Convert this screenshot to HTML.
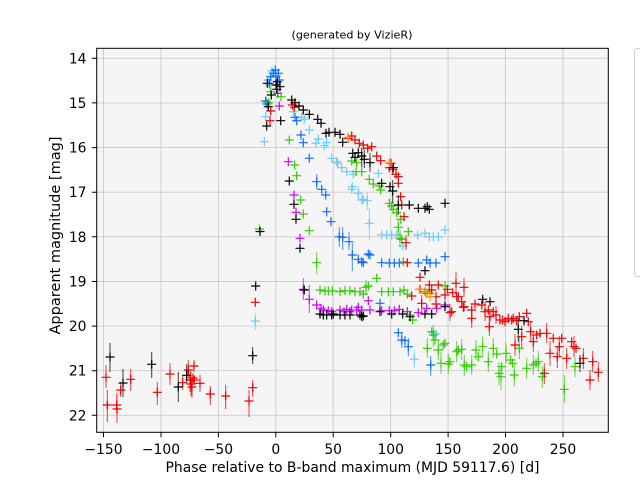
<!DOCTYPE html>
<html><head><meta charset="utf-8"><style>
html,body{margin:0;padding:0;background:#fff;}
svg{display:block;}
text{font-family:"DejaVu Sans","Liberation Sans",sans-serif;fill:#000;}
</style></head><body>
<svg width="640" height="480" viewBox="0 0 640 480" xmlns="http://www.w3.org/2000/svg">
<rect x="0" y="0" width="640" height="480" fill="#fff"/>
<text x="352" y="38.5" font-size="10.5" text-anchor="middle" textLength="121" lengthAdjust="spacingAndGlyphs">(generated by VizieR)</text>
<rect x="96.7" y="48.3" width="511.6" height="384" fill="#f5f5f5"/>
<g stroke="#cbcbcb" stroke-width="0.9">
<path d="M103.5 48.3V432.3M161 48.3V432.3M218.4 48.3V432.3M275.8 48.3V432.3M333.2 48.3V432.3M390.7 48.3V432.3M448.1 48.3V432.3M505.5 48.3V432.3M563 48.3V432.3"/>
<path d="M96.7 58.3H608.3M96.7 102.9H608.3M96.7 147.6H608.3M96.7 192.2H608.3M96.7 236.8H608.3M96.7 281.5H608.3M96.7 326.1H608.3M96.7 370.7H608.3M96.7 415.3H608.3"/>
</g>
<defs><clipPath id="c"><rect x="96.7" y="48.3" width="511.6" height="384"/></clipPath></defs>
<g clip-path="url(#c)" fill="none">
<!-- light blue -->
<g stroke="#66ccff">
<path stroke-width="1" opacity="0.75" d="M369.3 208V240M255.3 313V330M414.3 350V368M367.3 192V210M358.3 186V200"/>
<path stroke-width="1.2" d="M266.7 101.7m-4.5 0h9m-4.5-4.5v9M265.7 116.7m-4.5 0h9m-4.5-4.5v9M264.3 141.7m-4.5 0h9m-4.5-4.5v9M270 85m-4.5 0h9m-4.5-4.5v9M268 80m-4.5 0h9m-4.5-4.5v9M272 71m-4.5 0h9m-4.5-4.5v9M293.3 111.7m-4.5 0h9m-4.5-4.5v9M301.7 117.3m-4.5 0h9m-4.5-4.5v9M304.3 119.3m-4.5 0h9m-4.5-4.5v9M309.3 130m-4.5 0h9m-4.5-4.5v9M316 143.3m-4.5 0h9m-4.5-4.5v9M318.3 139m-4.5 0h9m-4.5-4.5v9M324.3 145.7m-4.5 0h9m-4.5-4.5v9M326.7 142.7m-4.5 0h9m-4.5-4.5v9M331.7 158.3m-4.5 0h9m-4.5-4.5v9M336.7 161.7m-4.5 0h9m-4.5-4.5v9M337.7 163.3m-4.5 0h9m-4.5-4.5v9M341.7 167.7m-4.5 0h9m-4.5-4.5v9M346.7 171.7m-4.5 0h9m-4.5-4.5v9M353.3 174.3m-4.5 0h9m-4.5-4.5v9M352.3 186.7m-4.5 0h9m-4.5-4.5v9M358.3 193.3m-4.5 0h9m-4.5-4.5v9M361.7 200m-4.5 0h9m-4.5-4.5v9M378.3 173.3m-4.5 0h9m-4.5-4.5v9M351.7 189.3m-4.5 0h9m-4.5-4.5v9M363.3 199.3m-4.5 0h9m-4.5-4.5v9M367.3 200.7m-4.5 0h9m-4.5-4.5v9M369.3 223.3m-4.5 0h9m-4.5-4.5v9M381.7 235m-4.5 0h9m-4.5-4.5v9M386.7 235m-4.5 0h9m-4.5-4.5v9M391.7 235m-4.5 0h9m-4.5-4.5v9M396.7 235m-4.5 0h9m-4.5-4.5v9M402.7 246m-4.5 0h9m-4.5-4.5v9M417.7 235m-4.5 0h9m-4.5-4.5v9M425 233.3m-4.5 0h9m-4.5-4.5v9M429.3 236.7m-4.5 0h9m-4.5-4.5v9M433.3 236.7m-4.5 0h9m-4.5-4.5v9M438.3 236.7m-4.5 0h9m-4.5-4.5v9M445 230m-4.5 0h9m-4.5-4.5v9M255.3 321m-4.5 0h9m-4.5-4.5v9M414.3 359.3m-4.5 0h9m-4.5-4.5v9M433.3 332.7m-4.5 0h9m-4.5-4.5v9M436 334m-4.5 0h9m-4.5-4.5v9"/>
</g>
<!-- blue -->
<g stroke="#0a6cff">
<path stroke-width="1" opacity="0.75" d="M339.3 227V247M342.7 227V250M349 232V250M352.3 243V271M408.3 338V356M430.7 356V376M401.7 332V348M316.7 174V189"/>
<path stroke-width="1.2" d="M273.3 73.3m-4.5 0h9m-4.5-4.5v9M275.3 70m-4.5 0h9m-4.5-4.5v9M270.7 76.7m-4.5 0h9m-4.5-4.5v9M278.3 73.3m-4.5 0h9m-4.5-4.5v9M269.3 83.3m-4.5 0h9m-4.5-4.5v9M279.3 80m-4.5 0h9m-4.5-4.5v9M265.7 101m-4.5 0h9m-4.5-4.5v9M267 104m-4.5 0h9m-4.5-4.5v9M276 76m-4.5 0h9m-4.5-4.5v9M295 117.3m-4.5 0h9m-4.5-4.5v9M296.7 120.7m-4.5 0h9m-4.5-4.5v9M301 135m-4.5 0h9m-4.5-4.5v9M303.3 142.7m-4.5 0h9m-4.5-4.5v9M309.3 158.3m-4.5 0h9m-4.5-4.5v9M316.7 181.7m-4.5 0h9m-4.5-4.5v9M321.7 189.3m-4.5 0h9m-4.5-4.5v9M325.7 195m-4.5 0h9m-4.5-4.5v9M326.7 211.7m-4.5 0h9m-4.5-4.5v9M331 221.7m-4.5 0h9m-4.5-4.5v9M339.3 236.7m-4.5 0h9m-4.5-4.5v9M342.7 237.3m-4.5 0h9m-4.5-4.5v9M349 241.7m-4.5 0h9m-4.5-4.5v9M352.3 255m-4.5 0h9m-4.5-4.5v9M358.3 259.3m-4.5 0h9m-4.5-4.5v9M361.7 261.7m-4.5 0h9m-4.5-4.5v9M363.3 262.7m-4.5 0h9m-4.5-4.5v9M368.3 254m-4.5 0h9m-4.5-4.5v9M370 255m-4.5 0h9m-4.5-4.5v9M381.7 262.7m-4.5 0h9m-4.5-4.5v9M389.3 263m-4.5 0h9m-4.5-4.5v9M394.3 263m-4.5 0h9m-4.5-4.5v9M399.3 263m-4.5 0h9m-4.5-4.5v9M418.3 263m-4.5 0h9m-4.5-4.5v9M426.7 260m-4.5 0h9m-4.5-4.5v9M430 263m-4.5 0h9m-4.5-4.5v9M436 263m-4.5 0h9m-4.5-4.5v9M445 256.7m-4.5 0h9m-4.5-4.5v9M380 303.3m-4.5 0h9m-4.5-4.5v9M398.3 332.7m-4.5 0h9m-4.5-4.5v9M401.7 340m-4.5 0h9m-4.5-4.5v9M405 340.7m-4.5 0h9m-4.5-4.5v9M408.3 346.7m-4.5 0h9m-4.5-4.5v9M430.7 365m-4.5 0h9m-4.5-4.5v9"/>
</g>
<!-- green -->
<g stroke="#33cc00">
<path stroke-width="1" opacity="0.75" d="M316.7 252V274M433.3 325V347M564.3 375V403M501 365V390M499 362V385M514.3 364V386M542.3 366V388M441 352V374M464.3 355V376M448.3 354V374M471.7 355V375M488.3 351V372M526.7 358V379M456.7 341V362M476 340V360M482.7 336V357M493.3 338V358M506 343V363M519.3 337V359M533.3 355V375M538.3 351V372M575 357V377M427.3 338V358M438.3 340V360M461.7 339V360M400 230V247M398.3 219V236M366 280V295"/>
<path stroke-width="1.2" d="M270.7 91.7m-4.5 0h9m-4.5-4.5v9M281 96.7m-4.5 0h9m-4.5-4.5v9M268.7 102.7m-4.5 0h9m-4.5-4.5v9M289.3 140m-4.5 0h9m-4.5-4.5v9M294.7 165m-4.5 0h9m-4.5-4.5v9M296.7 175.7m-4.5 0h9m-4.5-4.5v9M300.7 200m-4.5 0h9m-4.5-4.5v9M303.3 214m-4.5 0h9m-4.5-4.5v9M309.3 230.7m-4.5 0h9m-4.5-4.5v9M259.5 229m-4.5 0h9m-4.5-4.5v9M316.7 262.7m-4.5 0h9m-4.5-4.5v9M351.7 161m-4.5 0h9m-4.5-4.5v9M356.7 162.7m-4.5 0h9m-4.5-4.5v9M356 171.7m-4.5 0h9m-4.5-4.5v9M361.7 171.7m-4.5 0h9m-4.5-4.5v9M369.3 179.3m-4.5 0h9m-4.5-4.5v9M373.3 184m-4.5 0h9m-4.5-4.5v9M379.3 186m-4.5 0h9m-4.5-4.5v9M380.7 190m-4.5 0h9m-4.5-4.5v9M389.3 203.3m-4.5 0h9m-4.5-4.5v9M391.7 206m-4.5 0h9m-4.5-4.5v9M393.3 209.3m-4.5 0h9m-4.5-4.5v9M396.7 212.7m-4.5 0h9m-4.5-4.5v9M400.7 219.3m-4.5 0h9m-4.5-4.5v9M398.3 227.3m-4.5 0h9m-4.5-4.5v9M408.3 231.7m-4.5 0h9m-4.5-4.5v9M400 238.3m-4.5 0h9m-4.5-4.5v9M401.7 239.3m-4.5 0h9m-4.5-4.5v9M403.3 261.7m-4.5 0h9m-4.5-4.5v9M320 290m-4.5 0h9m-4.5-4.5v9M325 291m-4.5 0h9m-4.5-4.5v9M328.3 291m-4.5 0h9m-4.5-4.5v9M332.3 291m-4.5 0h9m-4.5-4.5v9M340 291.7m-4.5 0h9m-4.5-4.5v9M345 290.7m-4.5 0h9m-4.5-4.5v9M350 290.7m-4.5 0h9m-4.5-4.5v9M355 291.7m-4.5 0h9m-4.5-4.5v9M360 291.7m-4.5 0h9m-4.5-4.5v9M363.3 294m-4.5 0h9m-4.5-4.5v9M366 287.3m-4.5 0h9m-4.5-4.5v9M368.3 286m-4.5 0h9m-4.5-4.5v9M376.7 278.3m-4.5 0h9m-4.5-4.5v9M381.7 291.7m-4.5 0h9m-4.5-4.5v9M388.3 291.7m-4.5 0h9m-4.5-4.5v9M393.3 291.7m-4.5 0h9m-4.5-4.5v9M400 291.7m-4.5 0h9m-4.5-4.5v9M404 290m-4.5 0h9m-4.5-4.5v9M407.3 294m-4.5 0h9m-4.5-4.5v9M425 291.7m-4.5 0h9m-4.5-4.5v9M430 293.3m-4.5 0h9m-4.5-4.5v9M445 286m-4.5 0h9m-4.5-4.5v9M410 315m-4.5 0h9m-4.5-4.5v9M412.7 320m-4.5 0h9m-4.5-4.5v9M431.7 331.7m-4.5 0h9m-4.5-4.5v9M427.3 348.3m-4.5 0h9m-4.5-4.5v9M433.3 335m-4.5 0h9m-4.5-4.5v9M435 340m-4.5 0h9m-4.5-4.5v9M438.3 350m-4.5 0h9m-4.5-4.5v9M441 363.3m-4.5 0h9m-4.5-4.5v9M443.3 345m-4.5 0h9m-4.5-4.5v9M445 343.3m-4.5 0h9m-4.5-4.5v9M448.3 364m-4.5 0h9m-4.5-4.5v9M450 361.7m-4.5 0h9m-4.5-4.5v9M456.7 351.7m-4.5 0h9m-4.5-4.5v9M458.3 350m-4.5 0h9m-4.5-4.5v9M461.7 349.3m-4.5 0h9m-4.5-4.5v9M464.3 365m-4.5 0h9m-4.5-4.5v9M466.7 366.7m-4.5 0h9m-4.5-4.5v9M471.7 365m-4.5 0h9m-4.5-4.5v9M476 350m-4.5 0h9m-4.5-4.5v9M478.3 356.7m-4.5 0h9m-4.5-4.5v9M482.7 346.7m-4.5 0h9m-4.5-4.5v9M488.3 361.7m-4.5 0h9m-4.5-4.5v9M493.3 348.3m-4.5 0h9m-4.5-4.5v9M496.7 354m-4.5 0h9m-4.5-4.5v9M499 373.3m-4.5 0h9m-4.5-4.5v9M501 376.7m-4.5 0h9m-4.5-4.5v9M501.7 366.7m-4.5 0h9m-4.5-4.5v9M506 353.3m-4.5 0h9m-4.5-4.5v9M510.7 360m-4.5 0h9m-4.5-4.5v9M512.7 363.3m-4.5 0h9m-4.5-4.5v9M514.3 375m-4.5 0h9m-4.5-4.5v9M519.3 348.3m-4.5 0h9m-4.5-4.5v9M526.7 368.3m-4.5 0h9m-4.5-4.5v9M533.3 365m-4.5 0h9m-4.5-4.5v9M536 363.3m-4.5 0h9m-4.5-4.5v9M538.3 361.7m-4.5 0h9m-4.5-4.5v9M542.3 376.7m-4.5 0h9m-4.5-4.5v9M564.3 389.3m-4.5 0h9m-4.5-4.5v9M575 366.7m-4.5 0h9m-4.5-4.5v9"/>
</g>
<!-- magenta -->
<g stroke="#cc00ff">
<path stroke-width="1" opacity="0.75" d="M303.3 278V300M309.3 285V313"/>
<path stroke-width="1.2" d="M277.7 93.3m-4.5 0h9m-4.5-4.5v9M279.3 106m-4.5 0h9m-4.5-4.5v9M288.3 161.7m-4.5 0h9m-4.5-4.5v9M294 195m-4.5 0h9m-4.5-4.5v9M296 212.3m-4.5 0h9m-4.5-4.5v9M300 238.3m-4.5 0h9m-4.5-4.5v9M303.3 289.3m-4.5 0h9m-4.5-4.5v9M309.3 299.3m-4.5 0h9m-4.5-4.5v9M316.7 305m-4.5 0h9m-4.5-4.5v9M321 308.3m-4.5 0h9m-4.5-4.5v9M323.3 310m-4.5 0h9m-4.5-4.5v9M328.3 310.7m-4.5 0h9m-4.5-4.5v9M331.7 311.7m-4.5 0h9m-4.5-4.5v9M340 310m-4.5 0h9m-4.5-4.5v9M344 311.7m-4.5 0h9m-4.5-4.5v9M346.7 309.3m-4.5 0h9m-4.5-4.5v9M350 311.7m-4.5 0h9m-4.5-4.5v9M351.7 310m-4.5 0h9m-4.5-4.5v9M356.7 310m-4.5 0h9m-4.5-4.5v9M358.3 307.3m-4.5 0h9m-4.5-4.5v9M361.7 310m-4.5 0h9m-4.5-4.5v9M368.3 300.7m-4.5 0h9m-4.5-4.5v9M370 310m-4.5 0h9m-4.5-4.5v9M381.7 310.7m-4.5 0h9m-4.5-4.5v9M389.3 310.7m-4.5 0h9m-4.5-4.5v9M394.3 310.7m-4.5 0h9m-4.5-4.5v9M399.3 309.3m-4.5 0h9m-4.5-4.5v9M407.3 311.7m-4.5 0h9m-4.5-4.5v9M418.3 312.7m-4.5 0h9m-4.5-4.5v9M426.7 308.3m-4.5 0h9m-4.5-4.5v9M436.7 308.3m-4.5 0h9m-4.5-4.5v9M445 305m-4.5 0h9m-4.5-4.5v9"/>
</g>
<!-- red -->
<g stroke="#ee0000">
<path stroke-width="1" opacity="0.75" d="M106 365V388M107.3 390V422M116.7 395V413M117 393V423M120.7 382V397M130.7 369V391M157.3 382V405M170 363V385M182.7 375V390M188.3 360V378M190 370V392M191 372V396M192 378V398M194 360V372M200 375V392M210.3 386V405M225.7 385V409M249 390V417M252.7 380V397M406 235V250M456 272V295M464 278V297M450 304V321M471.7 309V328M489.3 317V336M515 334V356M521.7 326V348M530.7 322V342M533.3 331V352M544.3 363V384M550 341V366M557.3 346V368M559.3 336V357M566.7 348V369M583.3 348V369M590 370V390M592.7 351V372M598.3 362V382M546.7 323V343M574 336V357M485 302V321M496 306V324M421.7 295V312"/>
<path stroke-width="1.2" d="M106 377.3m-4.5 0h9m-4.5-4.5v9M107.3 405m-4.5 0h9m-4.5-4.5v9M116.7 405m-4.5 0h9m-4.5-4.5v9M117 409m-4.5 0h9m-4.5-4.5v9M120.7 390m-4.5 0h9m-4.5-4.5v9M130.7 379.3m-4.5 0h9m-4.5-4.5v9M157.3 392.3m-4.5 0h9m-4.5-4.5v9M170 374m-4.5 0h9m-4.5-4.5v9M182.7 382.7m-4.5 0h9m-4.5-4.5v9M188.3 370m-4.5 0h9m-4.5-4.5v9M190 380m-4.5 0h9m-4.5-4.5v9M191 384m-4.5 0h9m-4.5-4.5v9M192 387m-4.5 0h9m-4.5-4.5v9M193 378m-4.5 0h9m-4.5-4.5v9M194 366m-4.5 0h9m-4.5-4.5v9M194.3 380m-4.5 0h9m-4.5-4.5v9M200 383.3m-4.5 0h9m-4.5-4.5v9M210.3 394m-4.5 0h9m-4.5-4.5v9M225.7 396m-4.5 0h9m-4.5-4.5v9M249 401m-4.5 0h9m-4.5-4.5v9M252.7 387.7m-4.5 0h9m-4.5-4.5v9M255.3 302.3m-4.5 0h9m-4.5-4.5v9M270.7 111m-4.5 0h9m-4.5-4.5v9M270 120.7m-4.5 0h9m-4.5-4.5v9M292.3 105m-4.5 0h9m-4.5-4.5v9M294.3 107.3m-4.5 0h9m-4.5-4.5v9M348.3 138.3m-4.5 0h9m-4.5-4.5v9M351.7 136m-4.5 0h9m-4.5-4.5v9M355 140m-4.5 0h9m-4.5-4.5v9M359.3 143.3m-4.5 0h9m-4.5-4.5v9M363.3 145m-4.5 0h9m-4.5-4.5v9M367.7 148.3m-4.5 0h9m-4.5-4.5v9M371.7 146.7m-4.5 0h9m-4.5-4.5v9M376.7 156m-4.5 0h9m-4.5-4.5v9M380.7 160.7m-4.5 0h9m-4.5-4.5v9M391 163.3m-4.5 0h9m-4.5-4.5v9M389.3 167.7m-4.5 0h9m-4.5-4.5v9M392.7 169.3m-4.5 0h9m-4.5-4.5v9M396 174.3m-4.5 0h9m-4.5-4.5v9M398.3 176.7m-4.5 0h9m-4.5-4.5v9M398.3 183.3m-4.5 0h9m-4.5-4.5v9M400.7 196.7m-4.5 0h9m-4.5-4.5v9M401.7 205m-4.5 0h9m-4.5-4.5v9M404 216.7m-4.5 0h9m-4.5-4.5v9M406 242.7m-4.5 0h9m-4.5-4.5v9M407.3 262.7m-4.5 0h9m-4.5-4.5v9M420 277.3m-4.5 0h9m-4.5-4.5v9M411.7 296m-4.5 0h9m-4.5-4.5v9M420 289.3m-4.5 0h9m-4.5-4.5v9M421.7 303.3m-4.5 0h9m-4.5-4.5v9M426.7 293.3m-4.5 0h9m-4.5-4.5v9M429.3 285m-4.5 0h9m-4.5-4.5v9M431.7 290m-4.5 0h9m-4.5-4.5v9M436 296.7m-4.5 0h9m-4.5-4.5v9M438.3 285m-4.5 0h9m-4.5-4.5v9M445 295m-4.5 0h9m-4.5-4.5v9M447.3 289.3m-4.5 0h9m-4.5-4.5v9M450 312.7m-4.5 0h9m-4.5-4.5v9M452.7 292.7m-4.5 0h9m-4.5-4.5v9M456 283.3m-4.5 0h9m-4.5-4.5v9M458.3 296.7m-4.5 0h9m-4.5-4.5v9M463.3 307.3m-4.5 0h9m-4.5-4.5v9M464 287.3m-4.5 0h9m-4.5-4.5v9M436 304m-4.5 0h9m-4.5-4.5v9M451.7 311.7m-4.5 0h9m-4.5-4.5v9M456.7 296.7m-4.5 0h9m-4.5-4.5v9M461.7 301.7m-4.5 0h9m-4.5-4.5v9M464 306.7m-4.5 0h9m-4.5-4.5v9M471.7 310m-4.5 0h9m-4.5-4.5v9M471.7 318.3m-4.5 0h9m-4.5-4.5v9M475 304m-4.5 0h9m-4.5-4.5v9M481.7 305m-4.5 0h9m-4.5-4.5v9M485 311.7m-4.5 0h9m-4.5-4.5v9M488.3 310m-4.5 0h9m-4.5-4.5v9M490 316.7m-4.5 0h9m-4.5-4.5v9M489.3 326.7m-4.5 0h9m-4.5-4.5v9M493.3 311.7m-4.5 0h9m-4.5-4.5v9M496 315m-4.5 0h9m-4.5-4.5v9M500 320m-4.5 0h9m-4.5-4.5v9M502.7 320m-4.5 0h9m-4.5-4.5v9M505 321.7m-4.5 0h9m-4.5-4.5v9M508.3 318.3m-4.5 0h9m-4.5-4.5v9M511.7 320m-4.5 0h9m-4.5-4.5v9M513.3 318.3m-4.5 0h9m-4.5-4.5v9M515 345m-4.5 0h9m-4.5-4.5v9M516.7 320.7m-4.5 0h9m-4.5-4.5v9M519.3 316.7m-4.5 0h9m-4.5-4.5v9M521.7 336.7m-4.5 0h9m-4.5-4.5v9M526.7 313.3m-4.5 0h9m-4.5-4.5v9M528.3 321.7m-4.5 0h9m-4.5-4.5v9M530.7 331.7m-4.5 0h9m-4.5-4.5v9M533.3 341.7m-4.5 0h9m-4.5-4.5v9M536.7 335m-4.5 0h9m-4.5-4.5v9M540 333.3m-4.5 0h9m-4.5-4.5v9M544.3 373.3m-4.5 0h9m-4.5-4.5v9M546.7 333.3m-4.5 0h9m-4.5-4.5v9M550 353.3m-4.5 0h9m-4.5-4.5v9M553.3 338.3m-4.5 0h9m-4.5-4.5v9M557.3 356.7m-4.5 0h9m-4.5-4.5v9M559.3 346.7m-4.5 0h9m-4.5-4.5v9M561.7 338.3m-4.5 0h9m-4.5-4.5v9M566.7 358.3m-4.5 0h9m-4.5-4.5v9M571.7 341.7m-4.5 0h9m-4.5-4.5v9M574 346.7m-4.5 0h9m-4.5-4.5v9M576 348.3m-4.5 0h9m-4.5-4.5v9M583.3 358.3m-4.5 0h9m-4.5-4.5v9M590 380m-4.5 0h9m-4.5-4.5v9M592.7 361.7m-4.5 0h9m-4.5-4.5v9M598.3 372.3m-4.5 0h9m-4.5-4.5v9"/>
</g>
<!-- orange -->
<g stroke="#ff9900">
<path stroke-width="1.2" d="M348.3 137.3m-4.5 0h9m-4.5-4.5v9M389.3 162.7m-4.5 0h9m-4.5-4.5v9M419.3 289.3m-4.5 0h9m-4.5-4.5v9M426.7 292.7m-4.5 0h9m-4.5-4.5v9M430 296.7m-4.5 0h9m-4.5-4.5v9"/>
</g>
<!-- black -->
<g stroke="#000">
<path stroke-width="1" opacity="0.75" d="M110 343V372M123 369V397M151.7 352V378M178.3 372V402M186.7 364V383M252.7 347V364M361.7 148V167M370 153V172M392.7 180V203M398.3 195V215M518.3 318V342M580 355V372M364.3 150V168"/>
<path stroke-width="1.2" d="M110 357m-4.5 0h9m-4.5-4.5v9M123 383m-4.5 0h9m-4.5-4.5v9M151.7 364.3m-4.5 0h9m-4.5-4.5v9M178.3 387m-4.5 0h9m-4.5-4.5v9M186.7 375.3m-4.5 0h9m-4.5-4.5v9M252.7 355.7m-4.5 0h9m-4.5-4.5v9M255.7 286m-4.5 0h9m-4.5-4.5v9M267.3 83.3m-4.5 0h9m-4.5-4.5v9M271.3 95m-4.5 0h9m-4.5-4.5v9M277.3 81.7m-4.5 0h9m-4.5-4.5v9M280 86.7m-4.5 0h9m-4.5-4.5v9M276 85m-4.5 0h9m-4.5-4.5v9M276.7 89.3m-4.5 0h9m-4.5-4.5v9M268.3 106.7m-4.5 0h9m-4.5-4.5v9M266.7 126m-4.5 0h9m-4.5-4.5v9M280.7 120.7m-4.5 0h9m-4.5-4.5v9M291.7 100m-4.5 0h9m-4.5-4.5v9M295 102.7m-4.5 0h9m-4.5-4.5v9M299 106m-4.5 0h9m-4.5-4.5v9M303.3 110m-4.5 0h9m-4.5-4.5v9M309.3 114.3m-4.5 0h9m-4.5-4.5v9M317.7 119.3m-4.5 0h9m-4.5-4.5v9M321 123.3m-4.5 0h9m-4.5-4.5v9M326 133.3m-4.5 0h9m-4.5-4.5v9M329 132.3m-4.5 0h9m-4.5-4.5v9M335 132.3m-4.5 0h9m-4.5-4.5v9M340 134.3m-4.5 0h9m-4.5-4.5v9M342.7 142.3m-4.5 0h9m-4.5-4.5v9M352.7 153.3m-4.5 0h9m-4.5-4.5v9M358.3 152.7m-4.5 0h9m-4.5-4.5v9M361.7 156m-4.5 0h9m-4.5-4.5v9M355 157.3m-4.5 0h9m-4.5-4.5v9M364.3 159.3m-4.5 0h9m-4.5-4.5v9M370 162.7m-4.5 0h9m-4.5-4.5v9M381.7 183.3m-4.5 0h9m-4.5-4.5v9M390 186.7m-4.5 0h9m-4.5-4.5v9M392.7 191m-4.5 0h9m-4.5-4.5v9M393.3 167.7m-4.5 0h9m-4.5-4.5v9M398.3 205m-4.5 0h9m-4.5-4.5v9M409.3 205m-4.5 0h9m-4.5-4.5v9M418.3 208.3m-4.5 0h9m-4.5-4.5v9M425 208.3m-4.5 0h9m-4.5-4.5v9M427.3 206.7m-4.5 0h9m-4.5-4.5v9M429.3 209.3m-4.5 0h9m-4.5-4.5v9M445 203.3m-4.5 0h9m-4.5-4.5v9M289.3 181m-4.5 0h9m-4.5-4.5v9M294 204.3m-4.5 0h9m-4.5-4.5v9M296 219.3m-4.5 0h9m-4.5-4.5v9M300 248.3m-4.5 0h9m-4.5-4.5v9M260 231.5m-4.5 0h9m-4.5-4.5v9M304.3 290m-4.5 0h9m-4.5-4.5v9M320 314m-4.5 0h9m-4.5-4.5v9M323.3 315m-4.5 0h9m-4.5-4.5v9M326.7 315m-4.5 0h9m-4.5-4.5v9M331.7 315m-4.5 0h9m-4.5-4.5v9M333.3 314m-4.5 0h9m-4.5-4.5v9M340 315m-4.5 0h9m-4.5-4.5v9M345 315m-4.5 0h9m-4.5-4.5v9M350 315m-4.5 0h9m-4.5-4.5v9M360 315m-4.5 0h9m-4.5-4.5v9M361.7 316.7m-4.5 0h9m-4.5-4.5v9M363.3 316m-4.5 0h9m-4.5-4.5v9M380 311.7m-4.5 0h9m-4.5-4.5v9M391.7 314m-4.5 0h9m-4.5-4.5v9M402.7 314m-4.5 0h9m-4.5-4.5v9M410 316.7m-4.5 0h9m-4.5-4.5v9M425 314m-4.5 0h9m-4.5-4.5v9M431.7 314m-4.5 0h9m-4.5-4.5v9M445 306.7m-4.5 0h9m-4.5-4.5v9M425 270.7m-4.5 0h9m-4.5-4.5v9M482.7 299.3m-4.5 0h9m-4.5-4.5v9M490 301.7m-4.5 0h9m-4.5-4.5v9M518.3 329.3m-4.5 0h9m-4.5-4.5v9M524 320.7m-4.5 0h9m-4.5-4.5v9M580 363.3m-4.5 0h9m-4.5-4.5v9"/>
</g>
</g>
<rect x="96.7" y="48.3" width="511.6" height="384" fill="none" stroke="#000" stroke-width="1"/>
<g stroke="#000" stroke-width="1">
<path d="M103.5 432.3v4.9M161 432.3v4.9M218.4 432.3v4.9M275.8 432.3v4.9M333.2 432.3v4.9M390.7 432.3v4.9M448.1 432.3v4.9M505.5 432.3v4.9M563 432.3v4.9"/>
<path d="M96.7 58.3h-4.9M96.7 102.9h-4.9M96.7 147.6h-4.9M96.7 192.2h-4.9M96.7 236.8h-4.9M96.7 281.5h-4.9M96.7 326.1h-4.9M96.7 370.7h-4.9M96.7 415.3h-4.9"/>
</g>
<g font-size="13.9" text-anchor="middle">
<text x="103.5" y="454">−150</text>
<text x="161" y="454">−100</text>
<text x="218.4" y="454">−50</text>
<text x="275.8" y="454">0</text>
<text x="333.2" y="454">50</text>
<text x="390.7" y="454">100</text>
<text x="448.1" y="454">150</text>
<text x="505.5" y="454">200</text>
<text x="563" y="454">250</text>
</g>
<g font-size="13.9" text-anchor="end">
<text x="86.5" y="63.3">14</text>
<text x="86.5" y="107.9">15</text>
<text x="86.5" y="152.6">16</text>
<text x="86.5" y="197.2">17</text>
<text x="86.5" y="241.8">18</text>
<text x="86.5" y="286.5">19</text>
<text x="86.5" y="331.1">20</text>
<text x="86.5" y="375.7">21</text>
<text x="86.5" y="420.3">22</text>
</g>
<text x="352.5" y="472" font-size="13.9" text-anchor="middle" textLength="374" lengthAdjust="spacingAndGlyphs">Phase relative to B-band maximum (MJD 59117.6) [d]</text>
<text transform="translate(60,235.5) rotate(-90)" font-size="13.9" text-anchor="middle" textLength="198" lengthAdjust="spacingAndGlyphs">Apparent magnitude [mag]</text>
<rect x="634.5" y="48.5" width="20" height="228" rx="3" ry="3" fill="#fff" fill-opacity="0.8" stroke="#d0d0d0" stroke-width="1"/>
</svg>
</body></html>
